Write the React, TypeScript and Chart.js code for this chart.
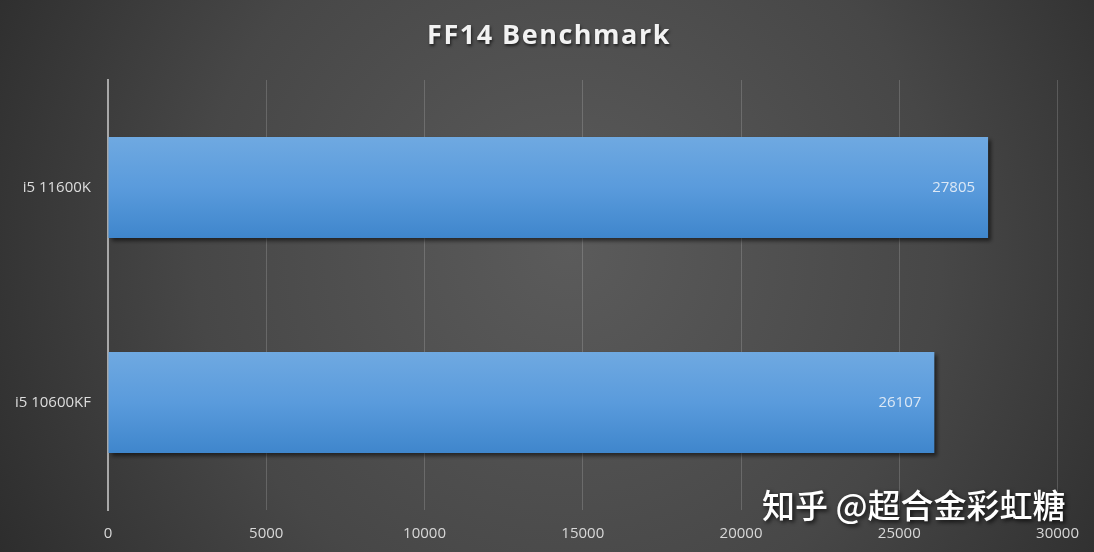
import React, { useEffect, useRef } from "react";
import { Chart, registerables } from "chart.js";

Chart.register(...registerables);

const categories = ["i5 11600K", "i5 10600KF"];
const scores = [27805, 26107];
const xTicks = [0, 5000, 10000, 15000, 20000, 25000, 30000];
const titleText = "FF14 Benchmark";
const watermark = "知乎 @超合金彩虹糖";

const CAT_PCT = 0.94;
const BAR_PCT = 0.5;

export default function App() {
  const ref = useRef<HTMLCanvasElement | null>(null);

  useEffect(() => {
    document.body.style.margin = "0";
    const canvas = ref.current!;
    const bgPlugin = {
      id: "bg",
      beforeDraw(chart: any) {
        const { ctx, width, height } = chart;
        ctx.save();
        const g = ctx.createRadialGradient(width * 0.52, height * 0.45, 0, width * 0.52, height * 0.45, width * 0.62);
        g.addColorStop(0, "#5b5b5b");
        g.addColorStop(0.55, "#474747");
        g.addColorStop(1, "#2a2a2a");
        ctx.fillStyle = g;
        ctx.fillRect(0, 0, width, height);
        ctx.restore();
      },
      beforeDatasetsDraw(chart: any) {
        const ctx = chart.ctx;
        ctx.save();
        ctx.shadowColor = "rgba(0,0,0,0.55)";
        ctx.shadowOffsetX = 3;
        ctx.shadowOffsetY = 3;
        ctx.shadowBlur = 4;
      },
      afterDatasetsDraw(chart: any) {
        const ctx = chart.ctx;
        ctx.restore();
        const meta = chart.getDatasetMeta(0);
        ctx.save();
        ctx.font = "15px 'Open Sans', sans-serif";
        ctx.fillStyle = "#dce8f5";
        ctx.textAlign = "right";
        ctx.textBaseline = "middle";
        meta.data.forEach((bar: any, i: number) => {
          ctx.fillText(String(scores[i]), bar.x - 13, bar.y);
        });
        ctx.restore();
      },
      afterDraw(chart: any) {
        const { ctx, width } = chart;
        ctx.save();
        ctx.font = "bold 27px 'Open Sans', sans-serif";
        (ctx as any).letterSpacing = "1.5px";
        ctx.textAlign = "center";
        ctx.textBaseline = "middle";
        ctx.shadowColor = "rgba(0,0,0,0.6)";
        ctx.shadowOffsetX = 1;
        ctx.shadowOffsetY = 2;
        ctx.shadowBlur = 3;
        ctx.fillStyle = "#f2f2f2";
        ctx.fillText(titleText, width / 2 + 2, 36);
        (ctx as any).letterSpacing = "0px";
        ctx.font = "500 33px 'Noto Sans CJK SC', sans-serif";
        ctx.textAlign = "left";
        ctx.shadowColor = "rgba(0,0,0,0.8)";
        ctx.shadowOffsetX = 2;
        ctx.shadowOffsetY = 2;
        ctx.shadowBlur = 4;
        ctx.fillStyle = "#ffffff";
        ctx.fillText(watermark, 762, 505);
        ctx.restore();
      },
    };

    const chart = new Chart(canvas, {
      type: "bar",
      data: {
        labels: categories,
        datasets: [
          {
            data: scores,
            backgroundColor: (c: any) => {
              const ch = c.chart;
              const ys = ch.scales && ch.scales.y;
              if (!ch.chartArea || !ys) return "#5597d8";
              const center = ys.getPixelForValue(c.dataIndex);
              const half = ((ys.height / categories.length) * CAT_PCT * BAR_PCT) / 2;
              if (!isFinite(center) || !isFinite(half) || half <= 0) return "#5597d8";
              const g = ch.ctx.createLinearGradient(0, center - half, 0, center + half);
              g.addColorStop(0, "#6fa9e1");
              g.addColorStop(0.5, "#5a9bdc");
              g.addColorStop(1, "#3f86cc");
              return g;
            },
            borderWidth: 0,
            categoryPercentage: CAT_PCT,
            barPercentage: BAR_PCT,
          },
        ],
      },
      options: {
        indexAxis: "y",
        animation: false,
        responsive: false,
        devicePixelRatio: 1,
        layout: { padding: { top: 80, right: 36, left: 0, bottom: 0 } },
        plugins: {
          legend: { display: false },
          tooltip: { enabled: false },
          title: { display: false },
        },
        scales: {
          x: {
            min: 0,
            max: 30000,
            afterBuildTicks: (s: any) => {
              s.ticks = xTicks.map((v) => ({ value: v }));
            },
            afterFit: (s: any) => {
              s.height = 42;
            },
            grid: {
              color: "rgba(255,255,255,0.17)",
              lineWidth: 1,
              drawTicks: false,
            },
            border: { display: false },
            ticks: {
              color: "#d8d8d8",
              font: { family: "'Open Sans', sans-serif", size: 15 },
              padding: 15,
              callback: (v: any) => String(v),
            },
          },
          y: {
            afterFit: (s: any) => {
              s.width = 108;
            },
            grid: { display: false, drawTicks: false },
            border: { display: true, color: "#a8a8a8", width: 2 },
            ticks: {
              color: "#dddddd",
              font: { family: "'Open Sans', sans-serif", size: 15 },
              padding: 17,
            },
          },
        },
      },
      plugins: [bgPlugin],
    } as any);
    return () => chart.destroy();
  }, []);

  return (
    <div style={{ width: 1094, height: 552 }}>
      <canvas ref={ref} width={1094} height={552} style={{ display: "block" }} />
    </div>
  );
}
